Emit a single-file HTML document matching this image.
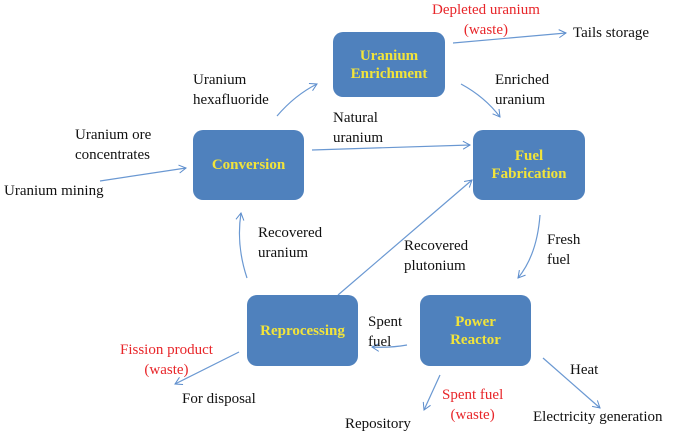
<!DOCTYPE html>
<html><head><style>
body{margin:0;width:685px;height:436px;background:#fff;position:relative;overflow:hidden;font-family:"Liberation Serif",serif}
.b{position:absolute;background:#4f81bd;border-radius:10px;color:#f2e43a;font-weight:bold;font-size:15px;display:flex;align-items:center;justify-content:center;text-align:center;line-height:18px}
.t{position:absolute;font-size:15px;line-height:20px;color:#111;white-space:nowrap}
.r{color:#e8262a;text-align:center}
svg{position:absolute;left:0;top:0}
</style></head><body>
<svg width="685" height="436"><defs><marker id="a" markerWidth="10" markerHeight="10" refX="8" refY="5" orient="auto" markerUnits="userSpaceOnUse"><path d="M1,1 L8,5 L1,9" fill="none" stroke="#5b8ccc" stroke-width="1"/></marker></defs>
<g fill="none" stroke="#6a98d2" stroke-width="1.2" marker-end="url(#a)">
<path d="M100,181 L186,168"/>
<path d="M277,116 Q295,95 317,84"/>
<path d="M312,150 L470,145"/>
<path d="M461,84 Q485,97 500,117"/>
<path d="M453,43 L566,33"/>
<path d="M540,215 Q537,255 518,278"/>
<path d="M407,345 Q390,348 372,347"/>
<path d="M247,278 Q236,245 241,213"/>
<path d="M338,295 L472,180"/>
<path d="M239,352 L175,384"/>
<path d="M440,375 L424,410"/>
<path d="M543,358 L600,408"/>
</g></svg>
<div class="b" style="left:333px;top:32px;width:112px;height:65px">Uranium<br>Enrichment</div>
<div class="b" style="left:193px;top:130px;width:111px;height:70px">Conversion</div>
<div class="b" style="left:473px;top:130px;width:112px;height:70px">Fuel<br>Fabrication</div>
<div class="b" style="left:247px;top:295px;width:111px;height:71px">Reprocessing</div>
<div class="b" style="left:420px;top:295px;width:111px;height:71px">Power<br>Reactor</div>
<div class="t r" style="left:432px;top:0px">Depleted uranium<br>(waste)</div>
<div class="t" style="left:573px;top:23px">Tails storage</div>
<div class="t" style="left:193px;top:70px">Uranium<br>hexafluoride</div>
<div class="t" style="left:495px;top:70px">Enriched<br>uranium</div>
<div class="t" style="left:333px;top:108px">Natural<br>uranium</div>
<div class="t" style="left:75px;top:125px">Uranium ore<br>concentrates</div>
<div class="t" style="left:4px;top:181px">Uranium mining</div>
<div class="t" style="left:258px;top:223px">Recovered<br>uranium</div>
<div class="t" style="left:404px;top:236px">Recovered<br>plutonium</div>
<div class="t" style="left:547px;top:230px">Fresh<br>fuel</div>
<div class="t" style="left:368px;top:312px">Spent<br>fuel</div>
<div class="t r" style="left:120px;top:340px">Fission product<br>(waste)</div>
<div class="t" style="left:182px;top:389px">For disposal</div>
<div class="t" style="left:570px;top:360px">Heat</div>
<div class="t r" style="left:442px;top:385px">Spent fuel<br>(waste)</div>
<div class="t" style="left:345px;top:414px">Repository</div>
<div class="t" style="left:533px;top:407px">Electricity generation</div>
</body></html>
